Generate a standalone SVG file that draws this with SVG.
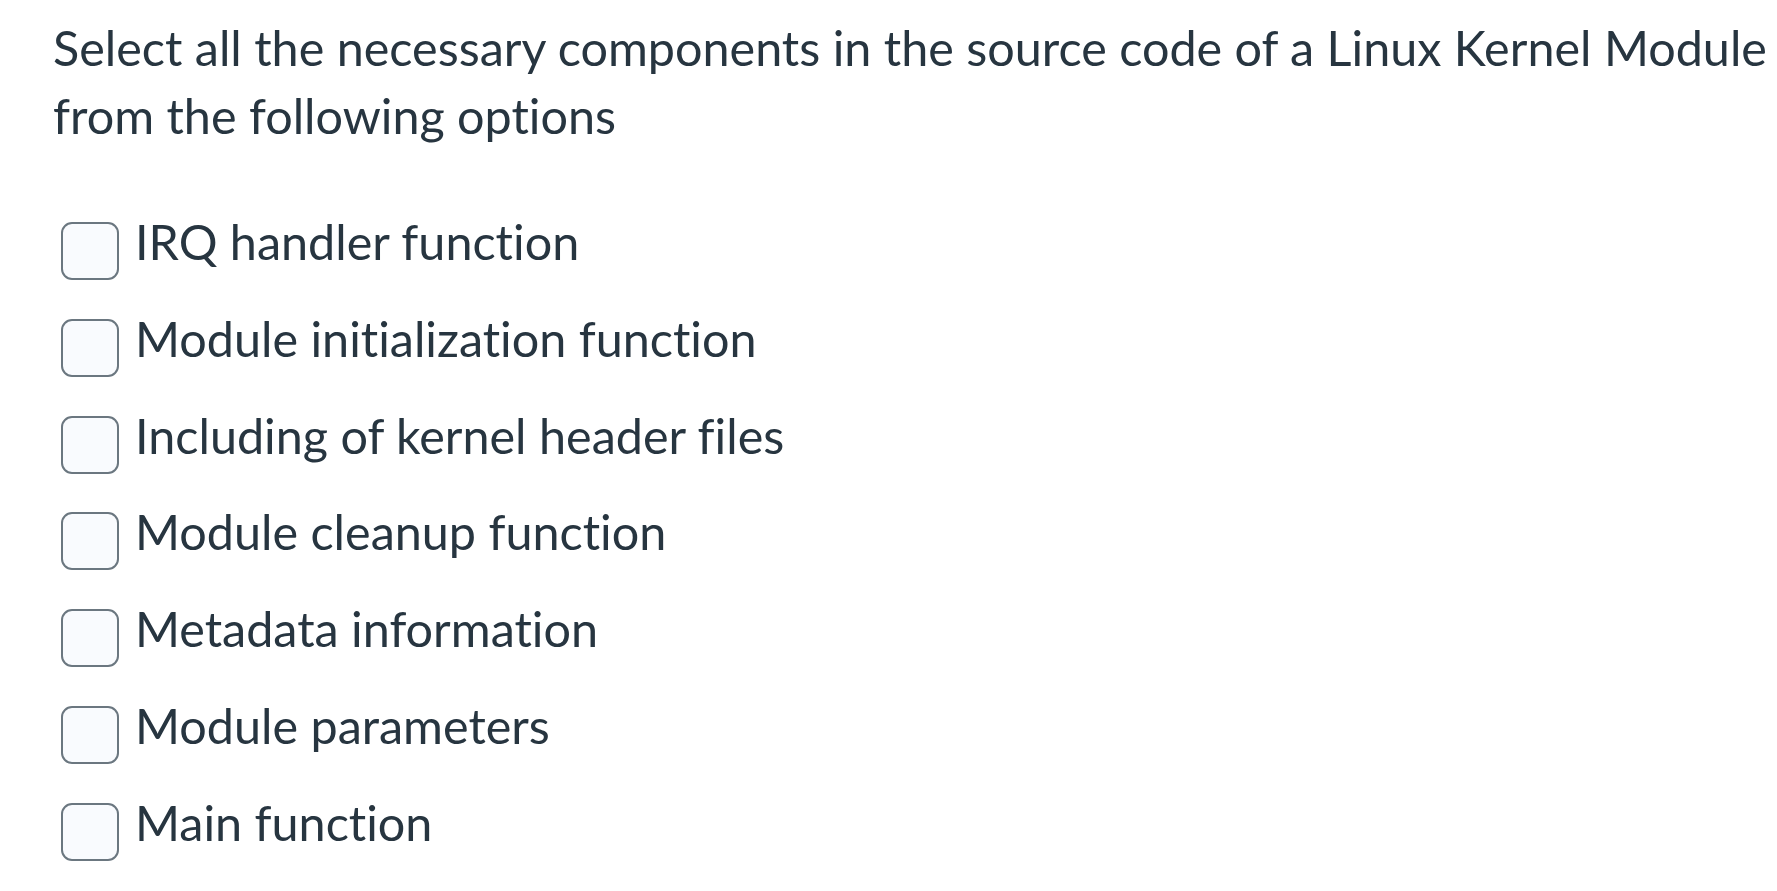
<svg xmlns="http://www.w3.org/2000/svg" width="1777" height="891" viewBox="0 0 1777 891">
<style>
text{font-family:Lato,"Noto Sans",sans-serif;font-size:48.5px;fill:#273540;font-variant-ligatures:none;font-feature-settings:"liga" 0}
.cb{fill:#f9fbfe;stroke:#6b7780;stroke-width:2}
</style>
<rect width="1777" height="891" fill="#fff"/>
<g id="question">
<text x="53" y="66">Select all the necessary components in the source code of a Linux Kernel Module</text>
<text x="53" y="134">from the following options</text>
</g>
<g id="opt1"><rect class="cb" x="62" y="223" width="56" height="56" rx="10"/><text x="135" y="260">IRQ handler function</text></g>
<g id="opt2"><rect class="cb" x="62" y="320" width="56" height="56" rx="10"/><text x="135" y="357">Module initialization function</text></g>
<g id="opt3"><rect class="cb" x="62" y="417" width="56" height="56" rx="10"/><text x="135" y="454">Including of kernel header files</text></g>
<g id="opt4"><rect class="cb" x="62" y="513" width="56" height="56" rx="10"/><text x="135" y="550">Module cleanup function</text></g>
<g id="opt5"><rect class="cb" x="62" y="610" width="56" height="56" rx="10"/><text x="135" y="647">Metadata information</text></g>
<g id="opt6"><rect class="cb" x="62" y="707" width="56" height="56" rx="10"/><text x="135" y="744">Module parameters</text></g>
<g id="opt7"><rect class="cb" x="62" y="804" width="56" height="56" rx="10"/><text x="135" y="841">Main function</text></g>
<g id="connectors"/>
</svg>
